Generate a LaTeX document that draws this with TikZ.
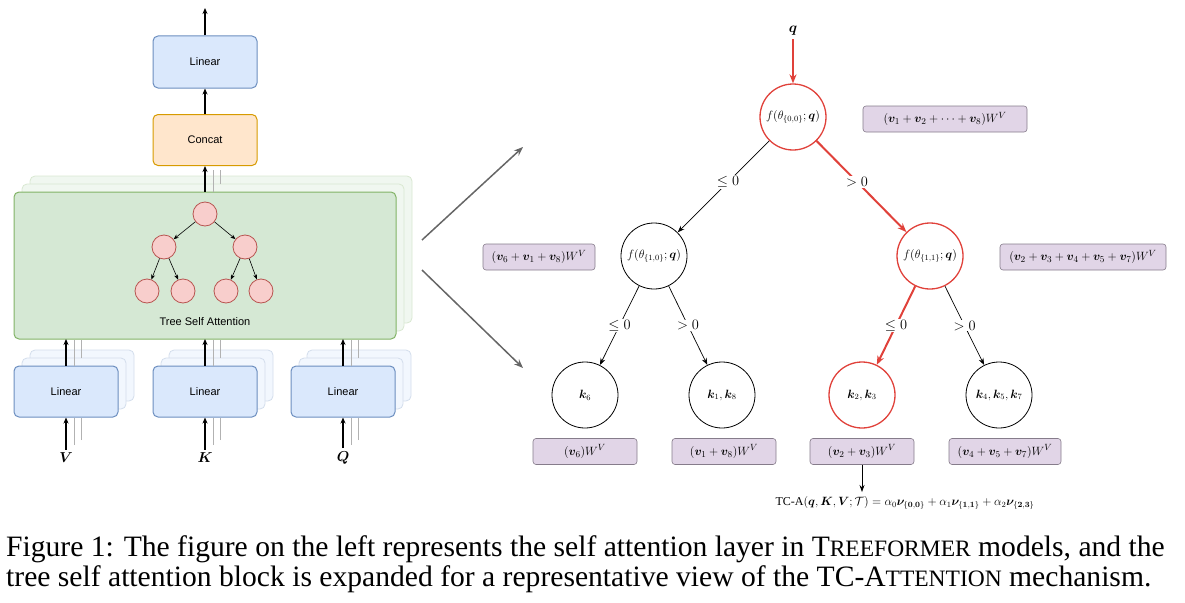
\documentclass[tikz,border=0pt]{standalone}
\usepackage{fontspec}
\setmainfont{Liberation Serif}
\newfontfamily\sansf{Liberation Sans}
\usepackage{amsmath,bm}
\usetikzlibrary{arrows.meta}
\definecolor{gfill}{HTML}{D5E8D4}\definecolor{gline}{HTML}{82B366}
\definecolor{bfill}{HTML}{DAE8FC}\definecolor{bline}{HTML}{6C8EBF}
\definecolor{ofill}{HTML}{FFE6CC}\definecolor{oline}{HTML}{D79B00}
\definecolor{pfill}{HTML}{E1D5E7}\definecolor{pline}{HTML}{9673A6}
\definecolor{rfill}{HTML}{F8CECC}\definecolor{rline}{HTML}{B85450}
\definecolor{tred}{HTML}{E0413A}
\begin{document}
\begin{tikzpicture}[x=1pt,y=-1pt,
 blk/.style={draw=#1line,fill=#1fill,rounded corners=5pt,line width=1pt,font=\sansf\fontsize{11}{12}\selectfont},
 ghost/.style={draw=#1line!30,fill=#1fill!35,rounded corners=5pt,line width=0.8pt},
 ar/.style={-{Stealth[length=6pt,width=5pt]},line width=1.2pt},
 gl/.style={gray!60,line width=0.6pt},
 sc/.style={circle,draw=rline,fill=rfill,line width=0.8pt,minimum size=24pt,inner sep=0},
 sa/.style={-{Stealth[length=5pt,width=4pt]},line width=0.6pt},
 tn/.style={circle,draw,line width=0.8pt,minimum size=66pt,inner sep=0,font=\fontsize{12}{13}\selectfont},
 rn/.style={tn,draw=tred,line width=1.3pt},
 vb/.style={draw=gray!70!pline,fill=pfill,rounded corners=3pt,line width=0.6pt,minimum height=26pt,inner sep=2pt,font=\fontsize{12.5}{13}\selectfont},
 lab/.style={font=\fontsize{15}{16}\selectfont,text=black,fill=white,inner sep=1pt},
 redar/.style={-{Stealth[length=9pt,width=7pt]},tred,line width=2pt},
 bar/.style={-{Stealth[length=7pt,width=5pt]},line width=0.7pt},
 gar/.style={-{Stealth[length=9pt,width=7pt]},gray!80!black,line width=1.5pt}]
\useasboundingbox (0,0) rectangle (1185,602);
% left column
\node[blk=b,minimum width=104pt,minimum height=52pt] (lin) at (205,62) {Linear};
\node[blk=o,minimum width=104pt,minimum height=51pt] (cat) at (205,140) {Concat};
\coordinate (top) at (205,8);
\draw[ar] (lin.north) -- (top);
\draw[ar] (cat.north) -- (lin.south);
\draw[ghost=g] (30,176) rectangle (412,323);
\draw[ghost=g] (22,184) rectangle (404,331);
\node[blk=g,minimum width=382pt,minimum height=147pt] (tsa) at (205,265.5) {};
\node[font=\sansf\fontsize{11}{12}\selectfont] (tsal) at (205,322) {Tree Self Attention};
\draw[gl] (213,192) -- (213,170) (220,184) -- (220,170);
\draw[ar] (tsa.north) -- (cat.south);
\node[sc] (r) at (205,214) {};
\node[sc] (a) at (164,247) {}; \node[sc] (b) at (245,247) {};
\node[sc] (a1) at (147,291) {}; \node[sc] (a2) at (183,291) {};
\node[sc] (b1) at (226,291) {}; \node[sc] (b2) at (261,291) {};
\foreach \p/\c in {r/a,r/b,a/a1,a/a2,b/b1,b/b2} \draw[sa] (\p) -- (\c);
\foreach \n/\x/\l in {V/66/V,K/205/K,Q/343/Q}{
  \draw[ghost=b] (\x-36,350) rectangle (\x+68,401);
  \draw[ghost=b] (\x-44,358) rectangle (\x+60,409);
  \node[blk=b,minimum width=104pt,minimum height=51pt] (l\n) at (\x,391.5) {Linear};
  \node[font=\fontsize{13.5}{14}\selectfont] (i\n) at (\x,458) {$\bm{\l}$};
  \draw[gl] (\x+8,366) -- (\x+8,340) (\x+15,358) -- (\x+15,340);
  \draw[gl] (\x+8,445) -- (\x+8,418) (\x+15,440) -- (\x+15,418);
  \draw[ar] (l\n.north) -- (\x,339);
  \draw[ar] (i\n.north) -- (l\n.south);
}
\coordinate (g1) at (523,147); \coordinate (g2) at (523,368);
\draw[gar] (422,240) -- (g1);
\draw[gar] (422,270) -- (g2);
% right tree
\node[font=\fontsize{14}{15}\selectfont] (q) at (793,31) {$\bm q$};
\node[rn] (n0) at (793,117) {$f(\theta_{\{0,0\}};\bm q)$};
\node[tn] (n1) at (654,256) {$f(\theta_{\{1,0\}};\bm q)$};
\node[rn] (n2) at (930,256) {$f(\theta_{\{1,1\}};\bm q)$};
\node[tn] (k1) at (585,395) {$\bm{k}_6$};
\node[tn] (k2) at (722,395) {$\bm{k}_1,\bm{k}_8$};
\node[rn] (k3) at (862,395) {$\bm{k}_2,\bm{k}_3$};
\node[tn] (k4) at (999,395) {$\bm{k}_4,\bm{k}_5,\bm{k}_7$};
\draw[redar] (q) -- (n0);
\draw[bar] (n0) -- node[lab,pos=0.45]{$\le 0$} (n1);
\draw[redar] (n0) -- node[lab,pos=0.45]{$> 0$} (n2);
\draw[bar] (n1) -- node[lab,pos=0.5]{$\le 0$} (k1);
\draw[bar] (n1) -- node[lab,pos=0.5]{$> 0$} (k2);
\draw[redar] (n2) -- node[lab,pos=0.5]{$\le 0$} (k3);
\draw[bar] (n2) -- node[lab,pos=0.5]{$> 0$} (k4);
\node[vb,minimum width=164pt] (v0) at (945,119) {$(\bm v_1+\bm v_2+\cdots+\bm v_8)W^V$};
\node[vb,minimum width=112pt] (v1) at (539,257) {$(\bm v_6+\bm v_1+\bm v_8)W^V$};
\node[vb,minimum width=166pt] (v2) at (1083,257) {$(\bm v_2+\bm v_3+\bm v_4+\bm v_5+\bm v_7)W^V$};
\node[vb,minimum width=104pt] (w1) at (585,451.5) {$(\bm v_6)W^V$};
\node[vb,minimum width=104pt] (w2) at (724,451.5) {$(\bm v_1+\bm v_8)W^V$};
\node[vb,minimum width=104pt] (w3) at (862,451.5) {$(\bm v_2+\bm v_3)W^V$};
\node[vb,minimum width=112pt] (w4) at (1005,451.5) {$(\bm v_4+\bm v_5+\bm v_7)W^V$};
\node[font=\fontsize{12}{13}\selectfont] (tc) at (905,503) {TC-A$(\bm q,\bm K,\bm V;\mathcal T)=\alpha_0\bm\nu_{\{\bm{0},\bm{0}\}}+\alpha_1\bm\nu_{\{\bm{1},\bm{1}\}}+\alpha_2\bm\nu_{\{\bm{2},\bm{3}\}}$};
\coordinate (tcp) at (862,492);
\draw[bar] (w3.south) -- (tcp);
% caption
\node[anchor=west,inner sep=0,font=\fontsize{29.6}{30}\selectfont] (c1) at (6,549) {Figure 1: The figure on the left represents the self attention layer in T{\fontsize{23.5}{24}\selectfont REEFORMER} models, and the};
\node[anchor=west,inner sep=0,font=\fontsize{29.6}{30}\selectfont] (c2) at (6,579) {tree self attention block is expanded for a representative view of the TC-A{\fontsize{23.5}{24}\selectfont TTENTION} mechanism.};
\end{tikzpicture}
\end{document}
